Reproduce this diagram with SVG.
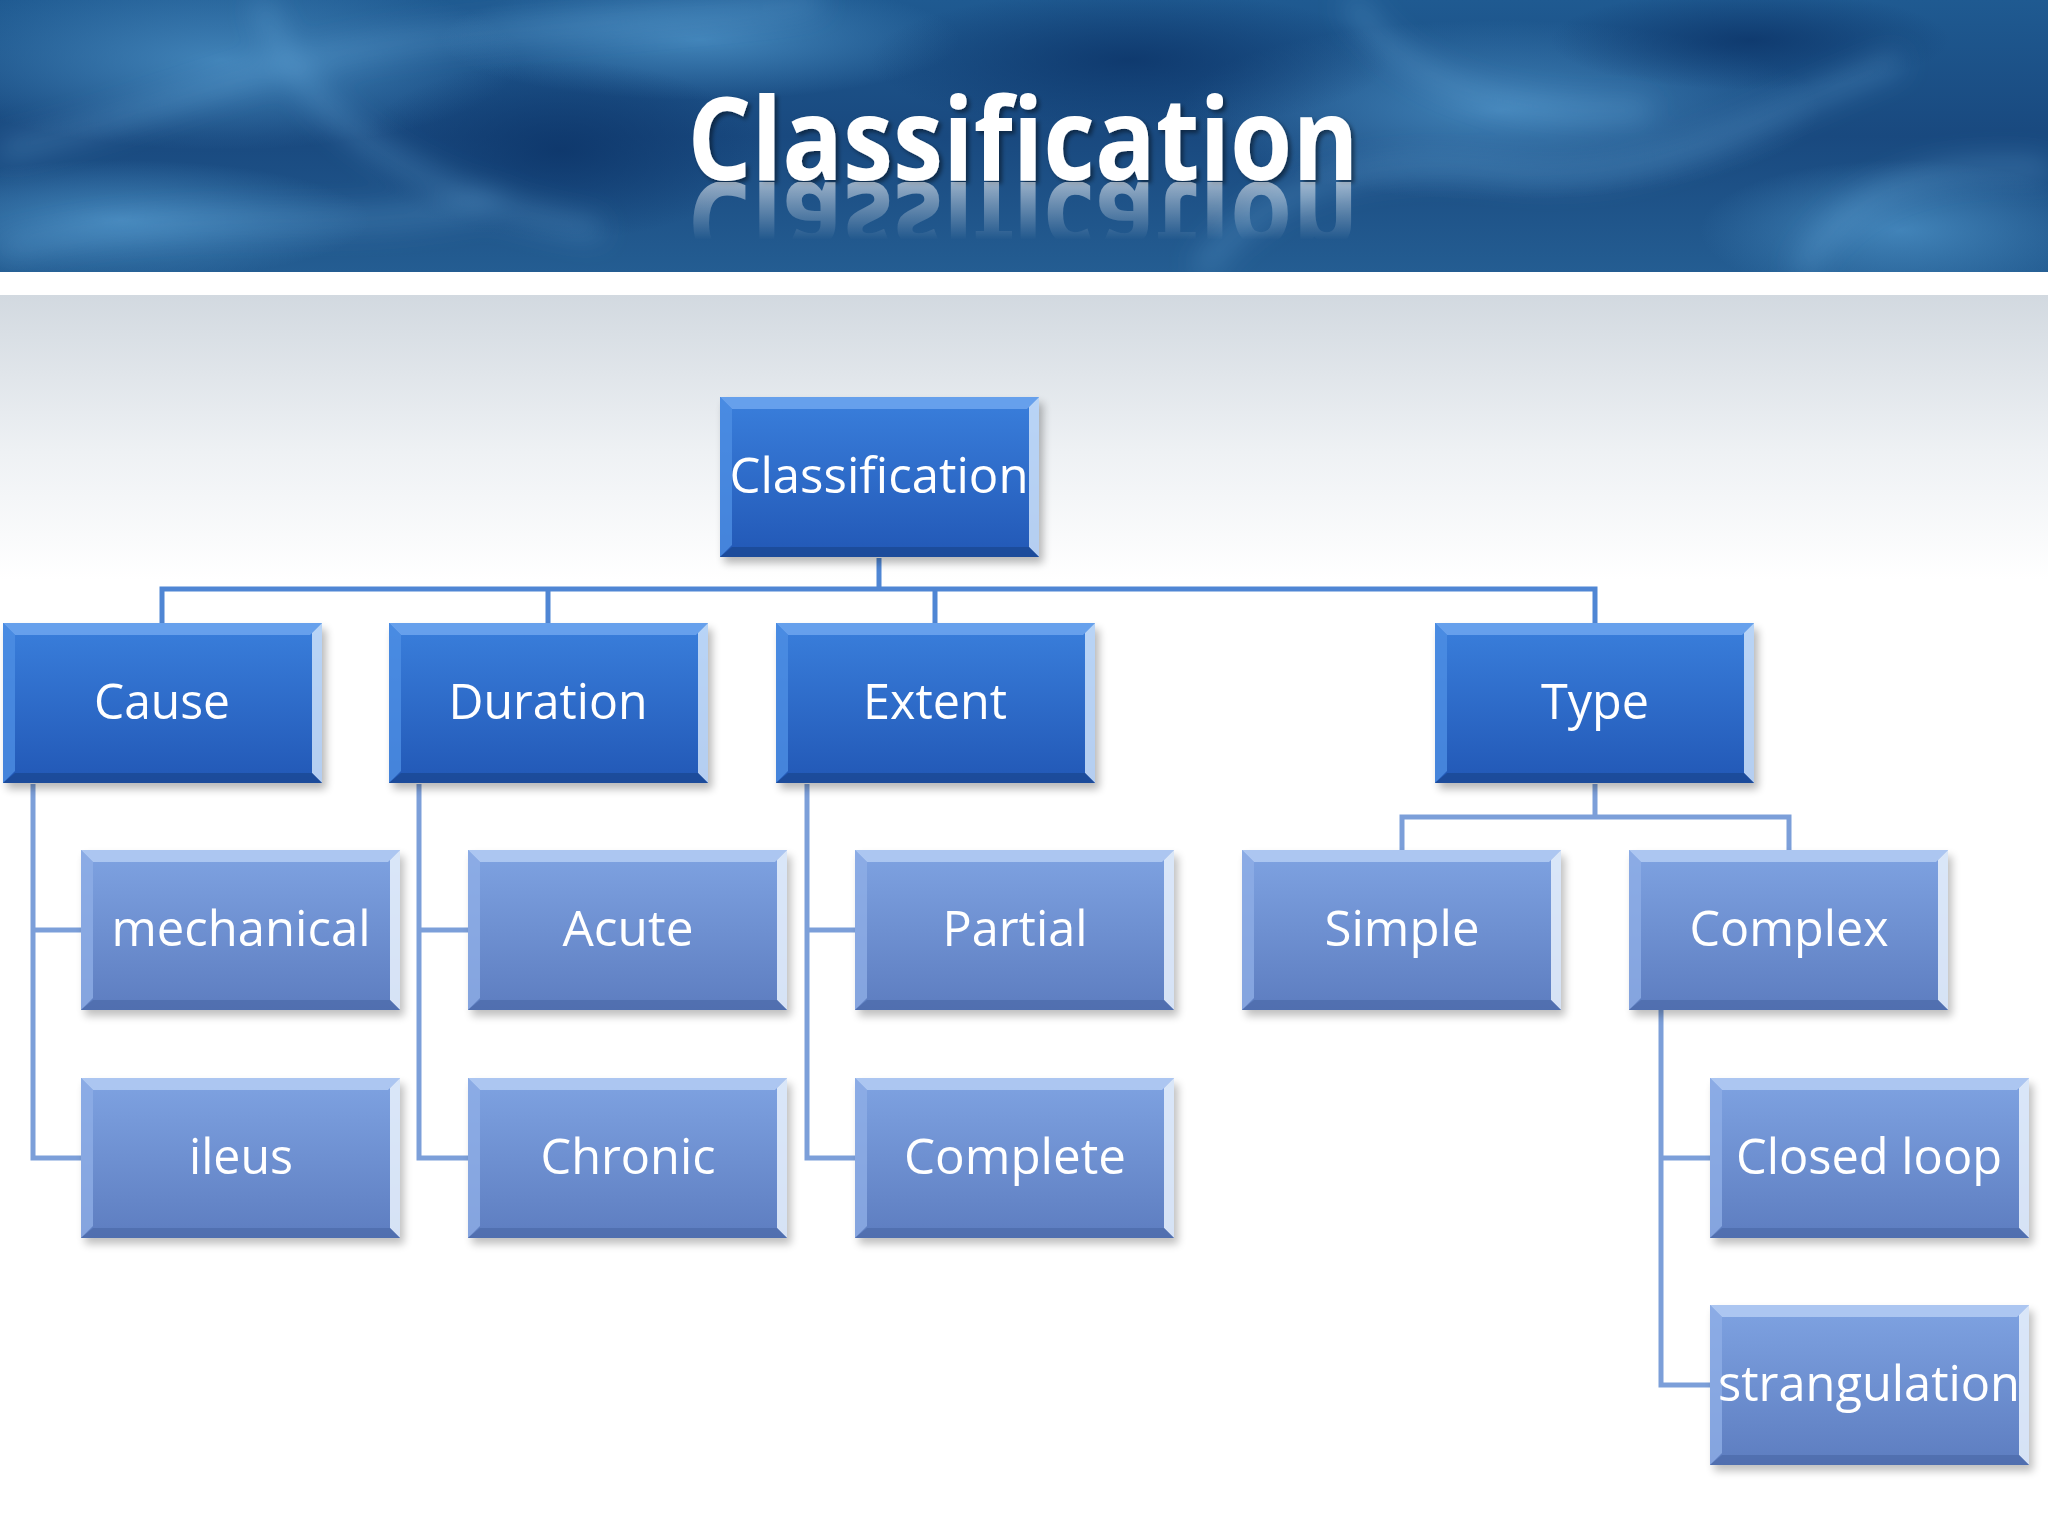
<svg xmlns="http://www.w3.org/2000/svg" xmlns:xlink="http://www.w3.org/1999/xlink" width="2048" height="1536" viewBox="0 0 2048 1536">
<defs>
<style>
.lbl{font-family:"Open Sans","Noto Sans","Liberation Sans",sans-serif;font-size:50px;fill:#ffffff;text-anchor:middle}
.title{font-family:"Open Sans","Noto Sans","Liberation Sans",sans-serif;font-weight:bold;font-size:115px;fill:#ffffff;text-anchor:middle}
.c1{fill:none;stroke:#4f86d4;stroke-width:5}
.c2{fill:none;stroke:#7c9fd9;stroke-width:5}
</style>
<clipPath id="hclip"><rect x="0" y="0" width="2048" height="272"/></clipPath>
<linearGradient id="hdr" x1="0" y1="0" x2="0" y2="1">
<stop offset="0" stop-color="#1f5a91"/>
<stop offset="0.5" stop-color="#19497f"/>
<stop offset="1" stop-color="#245d92"/>
</linearGradient>
<radialGradient id="blob" cx="0.5" cy="0.5" r="0.5">
<stop offset="0" stop-color="#4a8fc4" stop-opacity="0.8"/>
<stop offset="1" stop-color="#4a8fc4" stop-opacity="0"/>
</radialGradient>
<radialGradient id="dblob" cx="0.5" cy="0.5" r="0.5">
<stop offset="0" stop-color="#0c3468" stop-opacity="0.8"/>
<stop offset="1" stop-color="#0c3468" stop-opacity="0"/>
</radialGradient>
<linearGradient id="fade" x1="0" y1="0" x2="0" y2="1">
<stop offset="0" stop-color="#d2d9e0"/>
<stop offset="0.55" stop-color="#eef1f4"/>
<stop offset="1" stop-color="#ffffff"/>
</linearGradient>
<linearGradient id="gDark" x1="0" y1="0" x2="0" y2="1">
<stop offset="0" stop-color="#3a7fdc"/>
<stop offset="1" stop-color="#2258b6"/>
</linearGradient>
<linearGradient id="gLight" x1="0" y1="0" x2="0" y2="1">
<stop offset="0" stop-color="#7fa3e2"/>
<stop offset="1" stop-color="#5d7dc0"/>
</linearGradient>
<linearGradient id="reflFade" x1="0" y1="0" x2="0" y2="1">
<stop offset="0" stop-color="#fff" stop-opacity="0.55"/>
<stop offset="1" stop-color="#fff" stop-opacity="0"/>
</linearGradient>
<mask id="reflMask" maskUnits="userSpaceOnUse" x="0" y="170" width="2048" height="80">
<rect x="0" y="182" width="2048" height="58" fill="url(#reflFade)"/>
</mask>
<filter id="blur" x="-20%" y="-20%" width="140%" height="140%"><feGaussianBlur stdDeviation="14"/></filter>
<filter id="sh" x="-10%" y="-10%" width="130%" height="140%"><feGaussianBlur stdDeviation="4"/></filter>
<filter id="tsh" x="-5%" y="-20%" width="110%" height="140%"><feDropShadow dx="3" dy="3" stdDeviation="2" flood-color="#000" flood-opacity="0.45"/></filter>
<g id="nDark">
<rect x="4" y="6" width="319" height="160" fill="#000" opacity="0.28" filter="url(#sh)"/>
<rect x="0" y="0" width="319" height="160" fill="url(#gDark)"/>
<polygon points="0,0 319,0 307,12 12,12" fill="#6ea6ee" opacity="0.85"/>
<polygon points="0,0 12,12 12,148 0,160" fill="#4d8ee4" opacity="0.8"/>
<polygon points="319,0 319,160 309,150 309,10" fill="#cfe3fa" opacity="0.85"/>
<polygon points="0,160 319,160 309,150 12,150" fill="#1a468f" opacity="0.7"/>
</g>
<g id="nLight">
<rect x="4" y="6" width="319" height="160" fill="#000" opacity="0.25" filter="url(#sh)"/>
<rect x="0" y="0" width="319" height="160" fill="url(#gLight)"/>
<polygon points="0,0 319,0 307,12 12,12" fill="#b4cdf3" opacity="0.85"/>
<polygon points="0,0 12,12 12,148 0,160" fill="#8eaee6" opacity="0.8"/>
<polygon points="319,0 319,160 309,150 309,10" fill="#e3edfb" opacity="0.9"/>
<polygon points="0,160 319,160 309,150 12,150" fill="#4b69a8" opacity="0.7"/>
</g>
</defs>

<rect x="0" y="0" width="2048" height="1536" fill="#ffffff"/>

<g id="header" clip-path="url(#hclip)">
<rect x="0" y="0" width="2048" height="272" fill="url(#hdr)"/>
<ellipse cx="220" cy="60" rx="300" ry="90" fill="url(#blob)"/>
<ellipse cx="700" cy="40" rx="260" ry="60" fill="url(#blob)"/>
<ellipse cx="1500" cy="110" rx="320" ry="90" fill="url(#blob)"/>
<ellipse cx="1900" cy="230" rx="200" ry="70" fill="url(#blob)"/>
<ellipse cx="120" cy="220" rx="250" ry="60" fill="url(#blob)"/>
<ellipse cx="560" cy="150" rx="200" ry="90" fill="url(#dblob)"/>
<ellipse cx="1130" cy="60" rx="260" ry="70" fill="url(#dblob)"/>
<ellipse cx="1750" cy="40" rx="200" ry="50" fill="url(#dblob)"/>
<g filter="url(#blur)" fill="none" stroke="#6aaede" stroke-opacity="0.45" stroke-width="14">
<path d="M0 150 C150 120 250 60 420 40 S700 20 820 0"/>
<path d="M260 0 C300 120 420 200 600 230"/>
<path d="M1200 272 C1250 200 1350 150 1500 170 S1750 120 1900 60"/>
<path d="M1350 0 C1400 80 1500 120 1650 110"/>
<path d="M0 250 C200 200 350 240 500 200"/>
<path d="M1800 272 C1850 180 1950 160 2048 170"/>
</g>
</g>
<g id="title">
<text class="title" x="1023" y="180" textLength="671" lengthAdjust="spacingAndGlyphs" filter="url(#tsh)">Classification</text>
<g mask="url(#reflMask)">
<text class="title" x="1023" y="-182" textLength="671" lengthAdjust="spacingAndGlyphs" transform="scale(1,-1)">Classification</text>
</g>
</g>

<rect x="0" y="295" width="2048" height="285" fill="url(#fade)"/>

<g id="connectors">
<path class="c1" d="M879 558 V589 M162 623 V589 H1595 V623 M548 589 V623 M935 589 V623"/>
<path class="c2" d="M33 784 V1158 H81 M33 930 H81"/>
<path class="c2" d="M419 784 V1158 H468 M419 930 H468"/>
<path class="c2" d="M807 784 V1158 H855 M807 930 H855"/>
<path class="c2" d="M1595 784 V817 M1402 850 V817 H1789 V850"/>
<path class="c2" d="M1661 1010 V1385 H1710 M1661 1158 H1710"/>
</g>

<g id="node-classification"><use href="#nDark" x="720" y="397"/><text class="lbl" x="879" y="493" textLength="299" lengthAdjust="spacingAndGlyphs">Classification</text></g>
<g id="node-cause"><use href="#nDark" x="3" y="623"/><text class="lbl" x="162" y="719" textLength="136" lengthAdjust="spacingAndGlyphs">Cause</text></g>
<g id="node-duration"><use href="#nDark" x="389" y="623"/><text class="lbl" x="548" y="719" textLength="199" lengthAdjust="spacingAndGlyphs">Duration</text></g>
<g id="node-extent"><use href="#nDark" x="776" y="623"/><text class="lbl" x="935" y="719" textLength="144" lengthAdjust="spacingAndGlyphs">Extent</text></g>
<g id="node-type"><use href="#nDark" x="1435" y="623"/><text class="lbl" x="1595" y="719" textLength="108" lengthAdjust="spacingAndGlyphs">Type</text></g>

<g id="node-mechanical"><use href="#nLight" x="81" y="850"/><text class="lbl" x="241" y="946" textLength="259" lengthAdjust="spacingAndGlyphs">mechanical</text></g>
<g id="node-ileus"><use href="#nLight" x="81" y="1078"/><text class="lbl" x="241" y="1174" textLength="104" lengthAdjust="spacingAndGlyphs">ileus</text></g>
<g id="node-acute"><use href="#nLight" x="468" y="850"/><text class="lbl" x="628" y="946" textLength="131" lengthAdjust="spacingAndGlyphs">Acute</text></g>
<g id="node-chronic"><use href="#nLight" x="468" y="1078"/><text class="lbl" x="628" y="1174" textLength="175" lengthAdjust="spacingAndGlyphs">Chronic</text></g>
<g id="node-partial"><use href="#nLight" x="855" y="850"/><text class="lbl" x="1015" y="946" textLength="145" lengthAdjust="spacingAndGlyphs">Partial</text></g>
<g id="node-complete"><use href="#nLight" x="855" y="1078"/><text class="lbl" x="1015" y="1174" textLength="222" lengthAdjust="spacingAndGlyphs">Complete</text></g>
<g id="node-simple"><use href="#nLight" x="1242" y="850"/><text class="lbl" x="1402" y="946" textLength="155" lengthAdjust="spacingAndGlyphs">Simple</text></g>
<g id="node-complex"><use href="#nLight" x="1629" y="850"/><text class="lbl" x="1789" y="946" textLength="199" lengthAdjust="spacingAndGlyphs">Complex</text></g>
<g id="node-closed-loop"><use href="#nLight" x="1710" y="1078"/><text class="lbl" x="1869" y="1174" textLength="266" lengthAdjust="spacingAndGlyphs">Closed loop</text></g>
<g id="node-strangulation"><use href="#nLight" x="1710" y="1305"/><text class="lbl" x="1869" y="1401" textLength="302" lengthAdjust="spacingAndGlyphs">strangulation</text></g>
</svg>
